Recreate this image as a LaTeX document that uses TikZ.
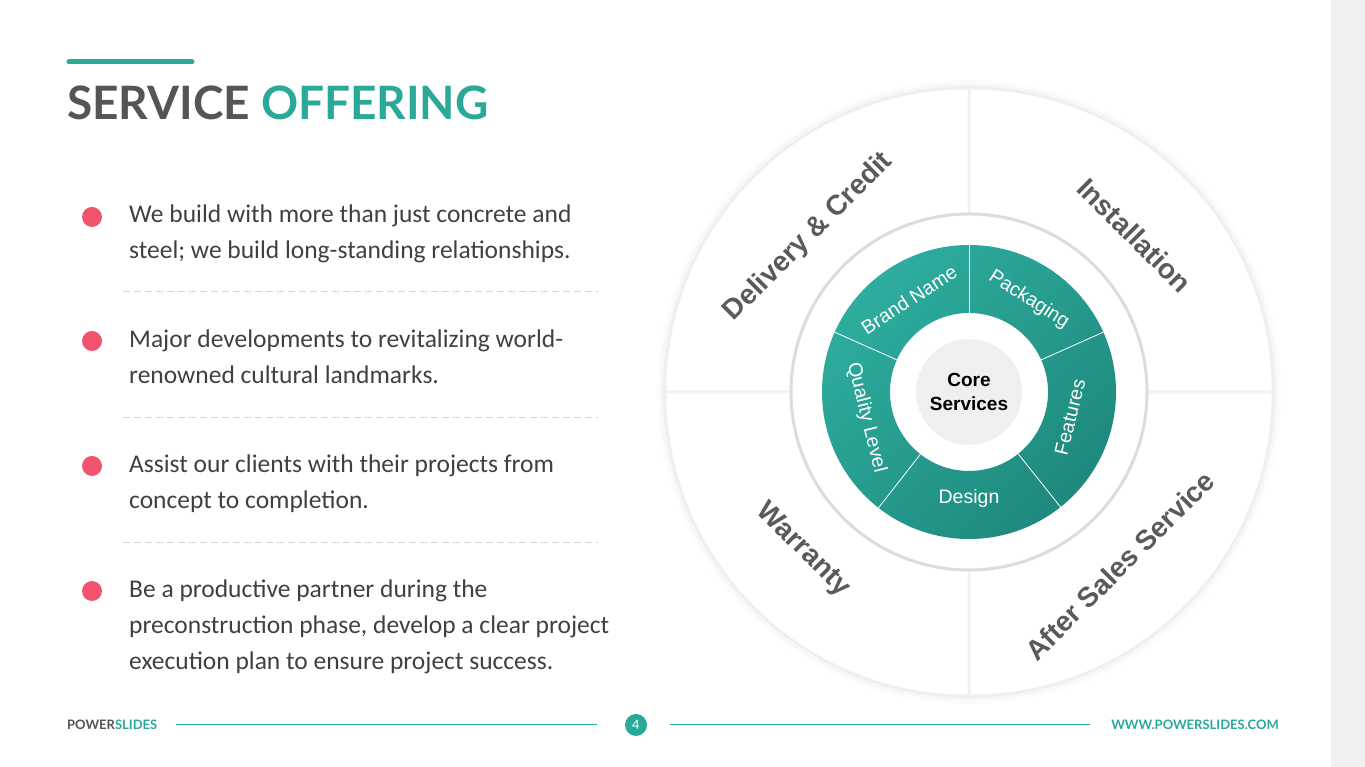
\documentclass[tikz,border=0pt]{standalone}
\usepackage{fontspec}
\setmainfont{Carlito}
\newfontfamily\arialfont{Liberation Sans}
\newfontfamily\latofont{Lato}
\usepackage{tikz}
\usetikzlibrary{positioning,calc}

\definecolor{brandteal}{HTML}{2AA898}
\definecolor{teallight}{HTML}{2DAD9E}
\definecolor{tealdark}{HTML}{1E897D}
\definecolor{titlegray}{HTML}{555555}
\definecolor{bodygray}{HTML}{404040}
\definecolor{labelgray}{HTML}{5A5A5A}
\definecolor{bulletred}{HTML}{F2546F}
\definecolor{dashgray}{HTML}{D6D6D6}
\definecolor{ringgray}{HTML}{DCDCDC}
\definecolor{coregray}{HTML}{EFEFEF}
\definecolor{stripgray}{HTML}{F0F0F0}

\begin{document}
\begin{tikzpicture}[x=1pt,y=1pt,
    bullet/.style={fill=bulletred,circle,inner sep=0pt,minimum size=20pt},
    point/.style={anchor=base west,align=left,inner sep=0pt,text=bodygray,font=\fontsize{25.5}{36}\selectfont},
    sepline/.style={dashgray,dash pattern=on 7pt off 4pt,line width=1pt},
    ringlabel/.style={text=white,inner sep=0pt,font=\arialfont\fontsize{19.5}{20}\selectfont},
    outerlabel/.style={text=labelgray,inner sep=0pt,font=\arialfont\bfseries\fontsize{28}{30}\selectfont},
    footer/.style={inner sep=0pt,font=\latofont\bfseries\fontsize{13}{13}\selectfont}]
    \useasboundingbox (0,0) rectangle (1365,767);
    \fill[stripgray] (1331,0) rectangle (1365,767);

    %% title
    \draw[brandteal, line width=5pt, line cap=round] (69,705) -- (192,705);
    \node (title) [anchor=base west, inner sep=0pt, font=\latofont\bfseries\fontsize{46}{50}\selectfont] at (67,647)
        {\textcolor{titlegray}{SERVICE} \textcolor{brandteal}{OFFERING}};

    %% bullet points (base sits on the last line)
    \node (b1) [bullet] at (92,550) {};
    \node (b2) [bullet] at (92,426) {};
    \node (b3) [bullet] at (92,301) {};
    \node (b4) [bullet] at (92,176) {};

    \node (p1) [point] at (129,508) {We build with more than just concrete and\\steel; we build long-standing relationships.};
    \node (p2) [point] at (129,383) {Major developments to revitalizing world-\\renowned cultural landmarks.};
    \node (p3) [point] at (129,258) {Assist our clients with their projects from\\concept to completion.};
    \node (p4) [point] at (129,97) {Be a productive partner during the\\preconstruction phase, develop a clear project\\execution plan to ensure project success.};

    \draw[sepline] (123,475) -- (598,475);
    \draw[sepline] (123,349) -- (598,349);
    \draw[sepline] (123,224) -- (598,224);

    %% wheel
    \coordinate (C) at (969,375);
    \foreach \r/\o in {312/0.012,309/0.02,306/0.03}
      \fill[black, opacity=\o] (C) circle (\r);
    \fill[black!5] (C) circle (303);
    \foreach \a/\dx/\dy in {0/1.5/1.5, 90/-1.5/1.5, 180/-1.5/-1.5, 270/1.5/-1.5}
      \fill[white] ($(C)+(\dx,\dy)$) -- ++(\a:301) arc[start angle=\a, end angle=\a+90, radius=301] -- cycle;

    \draw[ringgray, line width=3pt, fill=white] (C) circle (178);
    \shade[top color=teallight, bottom color=tealdark, shading angle=45, even odd rule] (C) circle (147) (C) circle (79);
    \foreach \a in {90,24,-51.5,-128,156}
      \draw[white, line width=0.8pt] ($(C)+(\a:79)$) -- ($(C)+(\a:147)$);
    \fill[coregray] (C) circle (53);

    \node (core) [align=center, inner sep=0pt, font=\arialfont\bfseries\fontsize{19}{24}\selectfont] at (C) {Core\\Services};

    \node (brand) [ringlabel, rotate=33] at ($(C)+(123:110)$) {Brand Name};
    \node (pack) [ringlabel, rotate=-33] at ($(C)+(57:110)$) {Packaging};
    \node (feat) [ringlabel, rotate=76] at ($(C)+(346:104)$) {Features};
    \node (design) [ringlabel] at ($(C)+(270:106)$) {Design};
    \node (quality) [ringlabel, rotate=-76] at ($(C)+(194:106)$) {Quality Level};

    \node (deliv) [outerlabel, rotate=45] at ($(C)+(136:223)$) {Delivery \& Credit};
    \node (install) [outerlabel, rotate=-45] at ($(C)+(43.4:228)$) {Installation};
    \node (warr) [outerlabel, rotate=-45] at ($(C)+(223.6:229)$) {Warranty};
    \node (after) [outerlabel, rotate=45] at ($(C)+(311:230)$) {After Sales Service};

    %% footer
    \node (brandtag) [footer, anchor=west] at (67,42) {\textcolor{titlegray}{POWER}\textcolor{brandteal}{SLIDES}};
    \node (pagenum) [circle, fill=brandteal, inner sep=0pt, minimum size=22pt, text=white, font=\latofont\fontsize{13}{13}\selectfont] at (636,42) {4};
    \node (site) [footer, anchor=east, text=brandteal] at (1279,42) {WWW.POWERSLIDES.COM};
    \coordinate (l1a) at (176,42);
    \coordinate (l1b) at (597,42);
    \coordinate (l2a) at (670,42);
    \coordinate (l2b) at (1090,42);
    \draw[brandteal, line width=1pt] (l1a) -- (l1b);
    \draw[brandteal, line width=1pt] (l2a) -- (l2b);
\end{tikzpicture}
\end{document}
